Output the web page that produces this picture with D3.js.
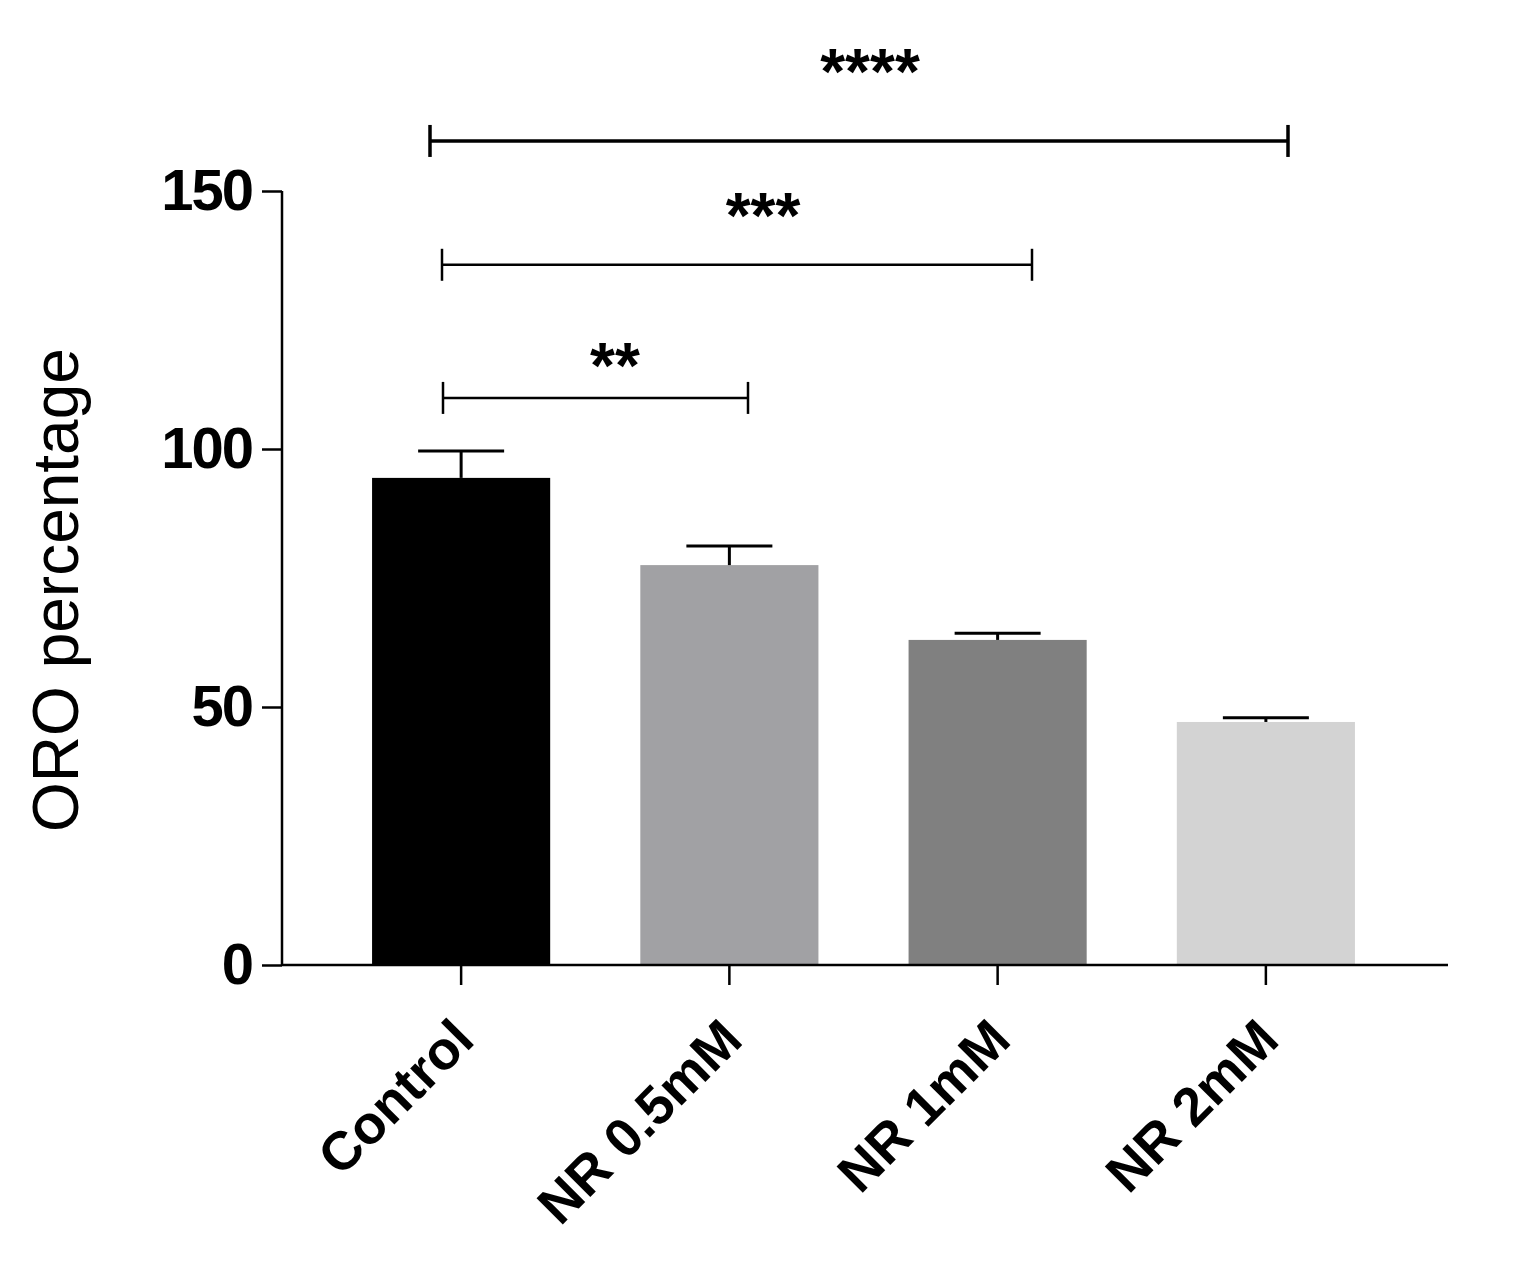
<!DOCTYPE html>
<html><head><meta charset="utf-8">
<script src="https://cdn.jsdelivr.net/npm/d3@7"></script>
<style>body{margin:0;background:#fff}</style></head>
<body><svg id="c" width="1526" height="1287"></svg>
<script>
const categories = ["Control","NR 0.5mM","NR 1mM","NR 2mM"];
const means = [94.4, 77.5, 63.0, 47.1];
const errs = [5.2, 3.7, 1.3, 0.8];
const colors = ["#000000","#a1a1a4","#808080","#d3d3d3"];
const yTicks = [0,50,100,150];
const sig = [
  {from:0,to:1,y:109.9,label:"**",x1:443,x2:748},
  {from:0,to:2,y:135.7,label:"***",x1:442,x2:1032},
  {from:0,to:3,y:159.7,label:"****",x1:430,x2:1288}
];
const svg = d3.select("#c");
const x = d3.scaleBand().domain(categories).range([327,1400]).paddingInner(0.336).paddingOuter(0.168);
const y = d3.scaleLinear().domain([0,150]).range([965,191]);
const font = "Liberation Sans, Arial, sans-serif";

svg.selectAll("rect.bar").data(categories).enter().append("rect")
  .attr("x",d=>x(d)).attr("width",x.bandwidth())
  .attr("y",(d,i)=>y(means[i])).attr("height",(d,i)=>y(0)-y(means[i]))
  .attr("fill",(d,i)=>colors[i]);
categories.forEach((c,i)=>{
  const cx = x(c)+x.bandwidth()/2;
  svg.append("line").attr("x1",cx).attr("x2",cx).attr("y1",y(means[i])).attr("y2",y(means[i]+errs[i])).attr("stroke","#000").attr("stroke-width",3);
  svg.append("line").attr("x1",cx-43).attr("x2",cx+43).attr("y1",y(means[i]+errs[i])).attr("y2",y(means[i]+errs[i])).attr("stroke","#000").attr("stroke-width",3);
});
const ya = svg.append("g").attr("transform","translate(282,0)")
  .call(d3.axisLeft(y).tickValues(yTicks).tickSize(20).tickPadding(10));
ya.select(".domain").attr("stroke-width",2.5).attr("d","M0,"+y(150)+"V"+y(0));
ya.selectAll(".tick line").attr("stroke-width",2.5);
ya.selectAll("text").attr("font-family",font).attr("font-weight","bold").attr("font-size",58).attr("fill","#000").attr("letter-spacing",-2);
const xa = svg.append("g").attr("transform","translate(0,965)")
  .call(d3.axisBottom(x).tickSize(20).tickPadding(10));
xa.select(".domain").attr("stroke-width",2.5).attr("d","M282,0H1448");
xa.selectAll(".tick line").attr("stroke-width",2.5);
xa.selectAll("text").attr("font-family",font).attr("font-weight","bold").attr("font-size",54).attr("fill","#000")
  .attr("text-anchor","end").attr("dy","0.35em").attr("transform","translate(2,64) rotate(-45)").attr("x",0).attr("y",0);
svg.append("text").attr("transform","translate(78,590) rotate(-90)").attr("text-anchor","middle")
  .attr("font-family",font).attr("font-size",64).text("ORO percentage");
sig.forEach((s,k)=>{
  const yy = y(s.y), sw = k===2?3.5:2.5;
  svg.append("line").attr("x1",s.x1).attr("x2",s.x2).attr("y1",yy).attr("y2",yy).attr("stroke","#000").attr("stroke-width",sw);
  [s.x1,s.x2].forEach(xx=>svg.append("line").attr("x1",xx).attr("x2",xx).attr("y1",yy-16).attr("y2",yy+16).attr("stroke","#000").attr("stroke-width",sw));
});
const starPos = [[615,388],[763,238],[870,94]];
sig.forEach((s,k)=>svg.append("text").attr("x",starPos[k][0]).attr("y",starPos[k][1]).attr("text-anchor","middle")
  .attr("font-family",font).attr("font-weight","bold").attr("font-size",64).text(s.label));
</script></body></html>
